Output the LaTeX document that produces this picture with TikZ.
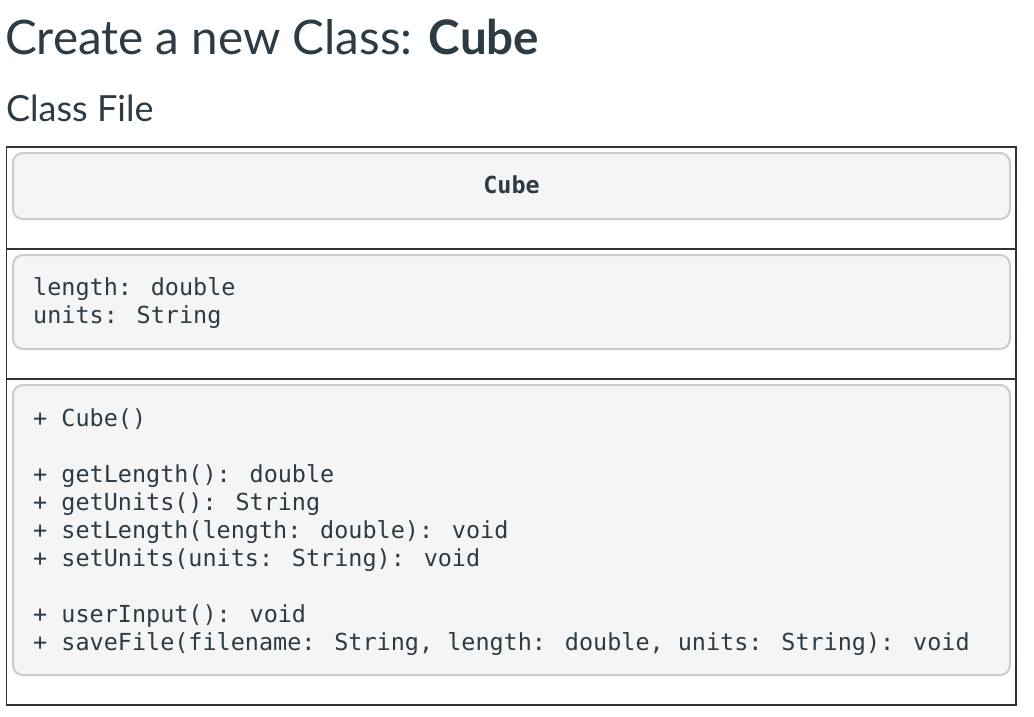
\documentclass[tikz,border=0pt]{standalone}
\usepackage{fontspec}
\setmainfont{Lato}
\newfontfamily\monof{DejaVu Sans Mono}
\definecolor{ink}{HTML}{2D3B45}
\definecolor{boxfill}{HTML}{F5F5F5}
\definecolor{boxline}{HTML}{C7CDD1}
\definecolor{rule}{HTML}{333333}
\tikzset{
  code/.style={anchor=base west, inner sep=0pt, text=ink, font=\monof\fontsize{23.45}{28}\selectfont},
  panel/.style={draw=boxline, fill=boxfill, line width=2pt, rounded corners=10pt},
  tablerule/.style={draw=rule, line width=1.5pt}
}
\begin{document}
\begin{tikzpicture}[x=1pt,y=-1pt]
\path[use as bounding box, fill=white] (0,0) rectangle (1034,716);
\node[anchor=base west, inner sep=0pt, text=ink, font=\fontsize{47.6}{57}\selectfont] (title) at (5,54) {Create a new Class: \textbf{Cube}};
\node[anchor=base west, inner sep=0pt, text=ink, font=\fontsize{36}{44}\selectfont] (sub) at (6,121) {Class File};
% table
\draw[tablerule] (6.5,147) rectangle (1016,705);
\draw[tablerule] (6.5,249) -- (1016,249);
\draw[tablerule] (6.5,379) -- (1016,379);
% panels
\path[panel] (13,153) rectangle (1010,219);
\path[panel] (13,255) rectangle (1010,349);
\path[panel] (13,385) rectangle (1010,675);
\node[anchor=base, inner sep=0pt, text=ink, font=\monof\bfseries\fontsize{23.45}{28}\selectfont] (name) at (511.5,193) {Cube};
\node[code] (a1) at (33,295) {length: double};
\node[code] (a2) at (33,323) {units: String};
\node[code] (m1) at (33,426) {+ Cube()};
\node[code] (m2) at (33,482) {+ getLength(): double};
\node[code] (m3) at (33,510) {+ getUnits(): String};
\node[code] (m4) at (33,538) {+ setLength(length: double): void};
\node[code] (m5) at (33,566) {+ setUnits(units: String): void};
\node[code] (m6) at (33,622) {+ userInput(): void};
\node[code] (m7) at (33,650) {+ saveFile(filename: String, length: double, units: String): void};
\end{tikzpicture}
\end{document}
